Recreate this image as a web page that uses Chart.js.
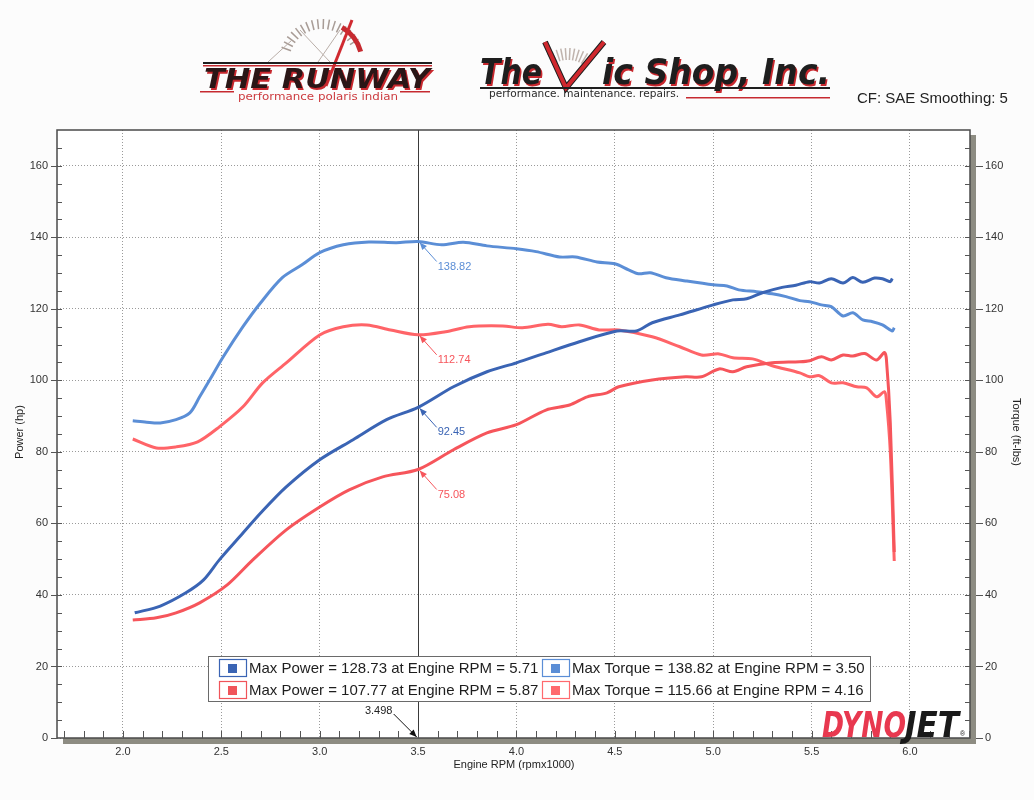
<!DOCTYPE html>
<html>
<head>
<meta charset="utf-8">
<title>Dyno Run - The Runway / The Vic Shop</title>
<script src="https://cdn.jsdelivr.net/npm/chart.js@4.4.0/dist/chart.umd.min.js"></script>
<style>
  html, body { margin: 0; padding: 0; background: #fcfcfc; }
  #wrap { position: relative; width: 1034px; height: 800px; }
</style>
</head>
<body>
<div id="wrap"><canvas id="dynoChart" width="1034" height="800"></canvas></div>
<script>
// Run 1 (blue) - power in hp
const powerBlueRpm = [2.06, 2.19, 2.32, 2.41, 2.49, 2.61, 2.70, 2.83, 3.00, 3.17, 3.34, 3.50, 3.68, 3.85, 4.00, 4.15, 4.32, 4.51, 4.61, 4.69, 4.83, 5.00, 5.10, 5.17, 5.25, 5.35, 5.42, 5.49, 5.54, 5.60, 5.66, 5.71, 5.76, 5.82, 5.86, 5.90, 5.91];
const powerBlue    = [35.0, 36.9, 40.6, 44.2, 49.8, 57.3, 62.9, 70.2, 77.8, 83.4, 89.0, 92.45, 98.2, 102.4, 104.9, 107.7, 110.8, 113.8, 113.8, 116.1, 118.3, 121.1, 122.5, 122.8, 124.5, 126.0, 126.6, 127.6, 127.2, 128.4, 127.2, 128.73, 127.4, 128.6, 128.4, 127.6, 128.5];

// Run 1 (blue) - torque in ft-lbs
const torqueBlueRpm = [2.05, 2.12, 2.19, 2.27, 2.34, 2.39, 2.44, 2.51, 2.61, 2.70, 2.81, 2.91, 3.00, 3.12, 3.25, 3.39, 3.50, 3.62, 3.73, 3.85, 4.00, 4.10, 4.22, 4.30, 4.41, 4.50, 4.57, 4.62, 4.68, 4.76, 4.86, 5.00, 5.07, 5.13, 5.22, 5.30, 5.37, 5.44, 5.49, 5.55, 5.60, 5.66, 5.71, 5.76, 5.81, 5.86, 5.91, 5.92];
const torqueBlue    = [88.7, 88.3, 88.1, 89.0, 90.9, 95.4, 100.0, 106.6, 115.0, 121.7, 128.7, 132.3, 135.7, 137.9, 138.7, 138.5, 138.82, 137.9, 138.6, 137.6, 136.8, 136.0, 134.5, 134.5, 133.1, 132.6, 130.9, 129.8, 130.1, 128.7, 127.8, 126.7, 126.4, 125.3, 124.8, 124.2, 123.4, 122.3, 122.0, 121.1, 120.6, 118.0, 118.9, 116.9, 116.4, 115.5, 113.8, 114.7];

// Run 2 (red) - power in hp
const powerRedRpm = [2.05, 2.17, 2.27, 2.39, 2.53, 2.66, 2.83, 3.00, 3.15, 3.32, 3.50, 3.68, 3.85, 4.00, 4.15, 4.27, 4.36, 4.46, 4.52, 4.69, 4.86, 4.94, 5.03, 5.10, 5.17, 5.30, 5.44, 5.49, 5.55, 5.60, 5.66, 5.71, 5.77, 5.83, 5.87, 5.88, 5.90, 5.92];
const powerRed    = [33.0, 33.6, 35.0, 37.8, 42.8, 49.8, 58.2, 64.6, 69.4, 73.0, 75.08, 80.6, 85.3, 87.6, 91.7, 93.1, 95.4, 96.5, 98.2, 100.1, 101.0, 101.0, 103.2, 102.4, 103.8, 104.9, 105.2, 105.5, 106.6, 105.7, 107.1, 106.8, 107.5, 105.7, 107.77, 106.0, 88.0, 52.0];

// Run 2 (red) - torque in ft-lbs
const torqueRedRpm = [2.05, 2.17, 2.27, 2.38, 2.49, 2.61, 2.71, 2.83, 3.00, 3.12, 3.24, 3.36, 3.50, 3.64, 3.76, 3.93, 4.03, 4.16, 4.23, 4.32, 4.42, 4.52, 4.69, 4.83, 4.94, 5.03, 5.10, 5.20, 5.30, 5.44, 5.49, 5.54, 5.60, 5.66, 5.73, 5.78, 5.83, 5.87, 5.88, 5.90, 5.92];
const torqueRed    = [83.6, 81.1, 81.4, 82.8, 87.0, 92.6, 99.3, 104.9, 112.7, 115.0, 115.5, 114.1, 112.74, 113.6, 115.0, 115.2, 114.7, 115.66, 115.0, 115.5, 114.1, 114.1, 112.2, 109.4, 107.1, 107.4, 106.3, 106.0, 104.1, 102.1, 101.0, 101.3, 99.3, 99.3, 98.2, 97.9, 95.4, 96.8, 94.5, 80.0, 49.5];

// Axis ticks
const xTicks = [2.0, 2.5, 3.0, 3.5, 4.0, 4.5, 5.0, 5.5, 6.0];
const yTicks = [0, 20, 40, 60, 80, 100, 120, 140, 160];

// Cursor readout at 3.498 krpm
const markerRpm = 3.498;
const markerValues = [138.82, 112.74, 92.45, 75.08];
const markerColors = ['#5b8ed6', '#f6555b', '#3a64b4', '#f6555b'];

// Peak summary (legend)
const peakKinds  = ['Power', 'Torque', 'Power', 'Torque'];
const peakValues = [128.73, 138.82, 107.77, 115.66];
const peakRpm    = [5.71, 3.50, 5.87, 4.16];
const peakColors = ['#3a64b4', '#5b8ed6', '#f0545a', '#ff6a6e'];

const FONT = "'Liberation Sans', Arial, sans-serif";

function makeSeries(label, rpm, vals, color, axis) {
    return {
        label: label,
        data: rpm.map((r, i) => ({ x: r, y: vals[i] })),
        borderColor: color,
        borderWidth: 3,
        pointRadius: 0,
        fill: false,
        tension: 0.3,
        yAxisID: axis
    };
}

// Draw stretched text to fit a width
function fitText(ctx, text, x, y, w, font, color) {
    ctx.save();
    ctx.font = font;
    const m = ctx.measureText(text).width;
    ctx.translate(x, y);
    ctx.scale(w / m, 1);
    ctx.fillStyle = color;
    ctx.fillText(text, 0, 0);
    ctx.restore();
}

function arrow(ctx, x1, y1, x2, y2, color) {
    const ang = Math.atan2(y2 - y1, x2 - x1);
    ctx.strokeStyle = color;
    ctx.fillStyle = color;
    ctx.lineWidth = 1;
    ctx.beginPath();
    ctx.moveTo(x1, y1);
    ctx.lineTo(x2, y2);
    ctx.stroke();
    ctx.beginPath();
    ctx.moveTo(x2, y2);
    ctx.lineTo(x2 - 8 * Math.cos(ang - 0.4), y2 - 8 * Math.sin(ang - 0.4));
    ctx.lineTo(x2 - 8 * Math.cos(ang + 0.4), y2 - 8 * Math.sin(ang + 0.4));
    ctx.closePath();
    ctx.fill();
}

// Header logos and run info
function drawHeader(ctx) {
    ctx.save();
    // Runway gauge
    const cx = 322, cy = 62;
    ctx.strokeStyle = '#a89c96';
    ctx.lineWidth = 1.5;
    for (let a = 200; a <= 330; a += 8) {
        const r = a * Math.PI / 180;
        ctx.beginPath();
        ctx.moveTo(cx + 33 * Math.cos(r), cy + 33 * Math.sin(r));
        ctx.lineTo(cx + 43 * Math.cos(r), cy + 43 * Math.sin(r));
        ctx.stroke();
    }
    ctx.strokeStyle = '#c62a30';
    ctx.lineWidth = 5;
    ctx.beginPath();
    ctx.arc(cx, cy, 40, 300 * Math.PI / 180, 345 * Math.PI / 180);
    ctx.stroke();
    ctx.strokeStyle = '#b9aea8';
    ctx.lineWidth = 1;
    ctx.beginPath();
    ctx.moveTo(292, 40); ctx.lineTo(268, 62);
    ctx.moveTo(300, 30); ctx.lineTo(330, 62);
    ctx.moveTo(340, 30); ctx.lineTo(318, 62);
    ctx.stroke();
    ctx.strokeStyle = '#d02a30';
    ctx.lineWidth = 3;
    ctx.beginPath();
    ctx.moveTo(326, 86); ctx.lineTo(352, 20);
    ctx.stroke();

    // Runway lines and text
    ctx.fillStyle = '#1e1e1e';
    ctx.fillRect(203, 62, 229, 2);
    ctx.fillStyle = '#c62a30';
    ctx.fillRect(203, 65, 229, 1.5);
    ctx.fillRect(200, 91, 34, 1.5);
    ctx.fillRect(400, 91, 30, 1.5);
    ctx.shadowColor = '#c8282e';
    ctx.shadowOffsetX = 1.5;
    ctx.shadowOffsetY = 1.5;
    fitText(ctx, 'THE RUNWAY', 204, 88, 226, "italic bold 26px 'DejaVu Sans'", '#2a1616');
    ctx.shadowColor = 'transparent';
    fitText(ctx, 'performance polaris indian', 238, 100, 160, "10px 'DejaVu Sans'", '#cc3a3e');

    // Vic Shop gauge V
    ctx.strokeStyle = '#bfb3ad';
    ctx.lineWidth = 1.5;
    for (let a = 238; a <= 304; a += 7) {
        const r = a * Math.PI / 180;
        ctx.beginPath();
        ctx.moveTo(568 + 26 * Math.cos(r), 86 + 26 * Math.sin(r));
        ctx.lineTo(568 + 38 * Math.cos(r), 86 + 38 * Math.sin(r));
        ctx.stroke();
    }
    ctx.strokeStyle = '#1e1e1e';
    ctx.lineWidth = 6;
    ctx.beginPath();
    ctx.moveTo(545, 42); ctx.lineTo(566, 88); ctx.lineTo(604, 42);
    ctx.stroke();
    ctx.strokeStyle = '#d0282e';
    ctx.lineWidth = 4;
    ctx.beginPath();
    ctx.moveTo(545, 42); ctx.lineTo(566, 88); ctx.lineTo(604, 42);
    ctx.stroke();

    // Vic Shop text
    ctx.shadowColor = '#c8282e';
    ctx.shadowOffsetX = 1.5;
    ctx.shadowOffsetY = 1.5;
    fitText(ctx, 'The', 480, 84, 62, "italic bold 36px 'DejaVu Sans'", '#1e1e1e');
    fitText(ctx, 'ic Shop, Inc.', 602, 84, 228, "italic bold 36px 'DejaVu Sans'", '#1e1e1e');
    ctx.shadowColor = 'transparent';
    ctx.fillStyle = '#1e1e1e';
    ctx.fillRect(480, 87, 350, 2);
    ctx.fillStyle = '#c62a30';
    ctx.fillRect(686, 97, 144, 1.5);
    fitText(ctx, 'performance. maintenance. repairs.', 489, 97, 190, "10px 'DejaVu Sans'", '#2a2a2a');

    // Run info
    ctx.fillStyle = '#222';
    ctx.font = '15px ' + FONT;
    ctx.textBaseline = 'middle';
    ctx.textAlign = 'left';
    ctx.fillText('CF: SAE Smoothing: 5', 857, 99);
    ctx.restore();
}

const decor = {
    id: 'dynoDecor',
    beforeDraw(chart) {
        const { ctx, chartArea: a } = chart;
        ctx.save();
        ctx.fillStyle = '#ffffff';
        ctx.fillRect(a.left, a.top, a.right - a.left, a.bottom - a.top);
        ctx.restore();
    },
    beforeDatasetsDraw(chart) {
        const { ctx, chartArea: a, scales: { x } } = chart;
        const mx = Math.round(x.getPixelForValue(markerRpm)) + 0.5;
        ctx.save();
        ctx.strokeStyle = '#3a3a3a';
        ctx.lineWidth = 1;
        ctx.beginPath();
        ctx.moveTo(mx, a.top);
        ctx.lineTo(mx, a.bottom);
        ctx.stroke();
        ctx.restore();
    },
    afterDraw(chart) {
        const { ctx, chartArea: a, scales: { x, y } } = chart;
        ctx.save();

        // frame shadow + border
        ctx.fillStyle = '#8d8c82';
        ctx.fillRect(a.right, a.top + 5, 6, a.bottom - a.top + 1);
        ctx.fillRect(a.left + 6, a.bottom, a.right - a.left, 6);
        ctx.strokeStyle = '#4a4a4a';
        ctx.lineWidth = 1.5;
        ctx.strokeRect(a.left, a.top, a.right - a.left, a.bottom - a.top);

        // minor / major ticks
        ctx.strokeStyle = '#555';
        ctx.lineWidth = 1;
        ctx.beginPath();
        for (let v = 5; v <= 165; v += 5) {
            const py = Math.round(y.getPixelForValue(v)) + 0.5;
            ctx.moveTo(a.left, py); ctx.lineTo(a.left + 5, py);
            ctx.moveTo(a.right - 5, py); ctx.lineTo(a.right, py);
        }
        yTicks.forEach(v => {
            const py = Math.round(y.getPixelForValue(v)) + 0.5;
            ctx.moveTo(a.left - 6, py); ctx.lineTo(a.left, py);
            ctx.moveTo(a.right + 6, py); ctx.lineTo(a.right + 13, py);
        });
        for (let k = 17; k <= 63; k++) {
            const px = Math.round(x.getPixelForValue(k / 10)) + 0.5;
            ctx.moveTo(px, a.bottom); ctx.lineTo(px, a.bottom - 7);
        }
        ctx.stroke();

        // cursor readouts
        const mx = x.getPixelForValue(markerRpm);
        ctx.font = '11px ' + FONT;
        ctx.textAlign = 'left';
        ctx.textBaseline = 'middle';
        markerValues.forEach((v, i) => {
            const py = y.getPixelForValue(v);
            arrow(ctx, mx + 19, py + 20, mx + 2, py + 1, markerColors[i]);
            ctx.fillStyle = markerColors[i];
            ctx.fillText(v.toFixed(2), mx + 20, py + 25);
        });
        arrow(ctx, mx - 24, a.bottom - 24, mx - 1, a.bottom - 1, '#111');
        ctx.fillStyle = '#222';
        ctx.textAlign = 'center';
        ctx.fillText(markerRpm.toFixed(3), mx - 39, a.bottom - 27);

        // summary legend
        ctx.fillStyle = '#ffffff';
        ctx.fillRect(208, 656, 662, 45);
        ctx.strokeStyle = '#6a6a6a';
        ctx.lineWidth = 1;
        ctx.strokeRect(208.5, 656.5, 662, 45);
        ctx.font = '15px ' + FONT;
        ctx.textAlign = 'left';
        const colX = [219, 542];
        const rowY = [668, 690];
        peakValues.forEach((v, i) => {
            const cx0 = colX[i % 2], cy0 = rowY[Math.floor(i / 2)];
            ctx.strokeStyle = peakColors[i];
            ctx.lineWidth = 1.2;
            ctx.strokeRect(cx0 + 0.5, cy0 - 8.5, 27, 17);
            ctx.fillStyle = peakColors[i];
            ctx.fillRect(cx0 + 9, cy0 - 4, 9, 9);
            ctx.fillStyle = '#1e1e1e';
            ctx.fillText('Max ' + peakKinds[i] + ' = ' + v.toFixed(2) + ' at Engine RPM = ' + peakRpm[i].toFixed(2), cx0 + 30, cy0 + 1);
        });

        // axis titles
        ctx.fillStyle = '#222';
        ctx.font = '11px ' + FONT;
        ctx.textAlign = 'center';
        ctx.fillText('Engine RPM (rpmx1000)', 514, 765);
        ctx.save();
        ctx.translate(20, 432);
        ctx.rotate(-Math.PI / 2);
        ctx.fillText('Power (hp)', 0, 0);
        ctx.restore();
        ctx.save();
        ctx.translate(1016, 432);
        ctx.rotate(Math.PI / 2);
        ctx.fillText('Torque (ft-lbs)', 0, 0);
        ctx.restore();

        // DYNOJET mark
        ctx.textBaseline = 'alphabetic';
        ctx.textAlign = 'left';
        fitText(ctx, 'DYNO', 822, 737, 84, "italic bold 36px 'DejaVu Sans'", '#e8384f');
        fitText(ctx, 'JET', 905, 737, 54, "italic bold 36px 'DejaVu Sans'", '#1a1a1a');
        ctx.font = '7px ' + FONT;
        ctx.fillStyle = '#1a1a1a';
        ctx.fillText('\u00AE', 960, 736);

        ctx.restore();
        drawHeader(ctx);
    }
};

Chart.defaults.font.family = FONT;
Chart.defaults.color = '#333';

const dynoChart = new Chart(document.getElementById('dynoChart'), {
    type: 'line',
    data: {
        datasets: [
            makeSeries('Power (run 1)', powerBlueRpm, powerBlue, '#3a64b4', 'y'),
            makeSeries('Torque (run 1)', torqueBlueRpm, torqueBlue, '#5b8ed6', 'y2'),
            makeSeries('Power (run 2)', powerRedRpm, powerRed, '#f6555b', 'y'),
            makeSeries('Torque (run 2)', torqueRedRpm, torqueRed, '#ff6468', 'y2')
        ]
    },
    options: {
        responsive: false,
        animation: false,
        layout: { padding: { top: 130, left: 0, right: 0, bottom: 0 } },
        plugins: {
            legend: { display: false },
            tooltip: { enabled: false }
        },
        scales: {
            x: {
                type: 'linear',
                min: 1.665,
                max: 6.305,
                afterBuildTicks: s => { s.ticks = xTicks.map(v => ({ value: v })); },
                afterFit: s => { s.height = 62; },
                ticks: {
                    padding: 7,
                    font: { size: 11 },
                    color: '#333',
                    callback: v => Number(v).toFixed(1)
                },
                grid: { color: '#9a9a9a', drawTicks: false },
                border: { display: false, dash: [1, 2] }
            },
            y: {
                position: 'left',
                min: 0,
                max: 170,
                afterBuildTicks: s => { s.ticks = yTicks.map(v => ({ value: v })); },
                afterFit: s => { s.width = 57; },
                ticks: { padding: 9, font: { size: 11 }, color: '#333' },
                grid: { color: '#9a9a9a', drawTicks: false },
                border: { display: false, dash: [1, 2] }
            },
            y2: {
                position: 'right',
                min: 0,
                max: 170,
                afterBuildTicks: s => { s.ticks = yTicks.map(v => ({ value: v })); },
                afterFit: s => { s.width = 64; },
                ticks: { padding: 15, font: { size: 11 }, color: '#333' },
                grid: { display: false, drawTicks: false },
                border: { display: false }
            }
        }
    },
    plugins: [decor]
});
</script>
</body>
</html>
